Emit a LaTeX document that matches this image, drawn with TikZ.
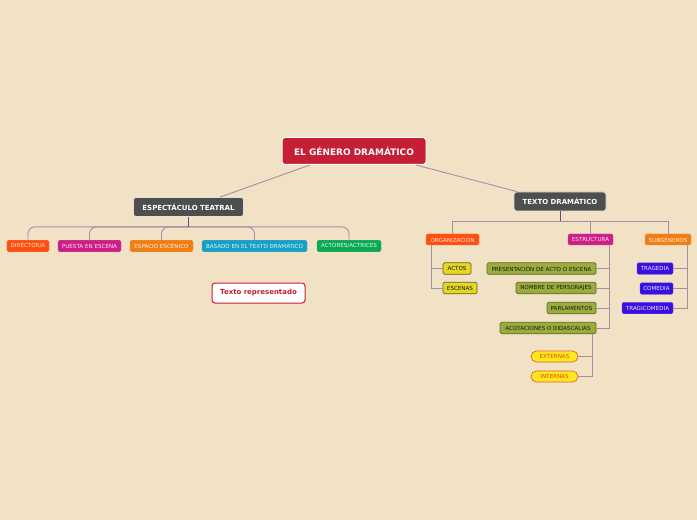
\documentclass[tikz,border=0pt]{standalone}
\usepackage{fontspec}
\setmainfont{DejaVu Sans}
\begin{document}
\definecolor{bg}{HTML}{F1E1C5}
\definecolor{rootred}{HTML}{C41F35}
\definecolor{darkbox}{HTML}{4E4E4E}
\definecolor{cred}{HTML}{FF4F10}
\definecolor{cmag}{HTML}{CC1F88}
\definecolor{corange}{HTML}{F07E12}
\definecolor{ccyan}{HTML}{189FC6}
\definecolor{cgreen}{HTML}{0CA955}
\definecolor{cyellow}{HTML}{E4D824}
\definecolor{cyellowb}{HTML}{6A6020}
\definecolor{colive}{HTML}{9AAD3B}
\definecolor{coliveb}{HTML}{5E6A24}
\definecolor{cpill}{HTML}{FFE81C}
\definecolor{cpillb}{HTML}{E0603A}
\definecolor{cpillt}{HTML}{E2461E}
\definecolor{cblue}{HTML}{3A10E0}
\definecolor{lnk}{HTML}{A58FA8}
\definecolor{lnkdark}{HTML}{6E4785}
\begin{tikzpicture}[x=1bp,y=-1bp,
  box/.style={rectangle,rounded corners=1.5bp,inner sep=0pt,align=center},
  rootbox/.style={box,fill=rootred,draw=white,line width=1bp,rounded corners=3bp,text=white,font=\bfseries\fontsize{9}{10}\selectfont,minimum width=144bp,minimum height=27bp},
  mainbox/.style={box,fill=darkbox,draw=black!12,line width=0.8bp,rounded corners=2.5bp,text=white,font=\bfseries\fontsize{7}{8}\selectfont,minimum height=19bp},
  lvtwo/.style={box,fill=#1,draw=#1!85!white,line width=0.4bp,text=white!88!#1,font=\fontsize{5.6}{6}\selectfont,minimum height=11.5bp},
  yelbox/.style={box,fill=cyellow,draw=cyellowb,line width=0.7bp,text=black!90,font=\fontsize{5.6}{6}\selectfont,minimum height=11.5bp},
  olbox/.style={box,fill=colive,draw=coliveb,line width=0.7bp,text=black!90,font=\fontsize{5.6}{6}\selectfont,minimum height=11.5bp},
  pillbox/.style={box,fill=cpill,draw=cpillb,line width=0.7bp,rounded corners=5.5bp,text=cpillt,font=\fontsize{5.6}{6}\selectfont,minimum height=11bp,minimum width=47bp},
  bluebox/.style={box,fill=cblue,draw=cblue!80!white,line width=0.4bp,text=white!90!cblue,font=\fontsize{5.6}{6}\selectfont,minimum height=11.5bp},
  link/.style={draw=lnk,line width=0.9bp},
  stub/.style={draw=lnkdark,line width=0.9bp}
]
\fill[bg] (0,0) rectangle (697,520);
\useasboundingbox (0,0) rectangle (697,520);

% root and main nodes
\node[rootbox] (root) at (354,151) {EL GÉNERO DRAMÁTICO};
\node[mainbox,minimum width=110bp] (esp) at (188.5,207) {ESPECTÁCULO TEATRAL};
\node[mainbox,minimum width=92bp] (tex) at (560,201.5) {TEXTO DRAMÁTICO};

% espectaculo children
\node[lvtwo=cred,minimum width=42bp] (dir) at (28,246) {DIRECTOR/A};
\node[lvtwo=cmag,minimum width=63bp] (pue) at (89.5,246) {PUESTA EN ESCENA};
\node[lvtwo=corange,minimum width=63bp] (espa) at (161.5,246) {ESPACIO ESCÉNICO};
\node[lvtwo=ccyan,minimum width=105bp] (bas) at (254.5,246) {BASADO EN EL TEXTO DRAMÁTICO};
\node[lvtwo=cgreen,minimum width=64bp] (act) at (349,246) {ACTORES/ACTRICES};

\node[box,fill=white,draw=rootred,line width=1bp,rounded corners=3bp,text=rootred,font=\bfseries\fontsize{7}{8}\selectfont,minimum width=93bp,minimum height=20bp] (trep) at (258.5,293) {Texto representado};

% texto children
\node[lvtwo=cred,minimum width=53bp,minimum height=11bp] (org) at (452.5,239.5) {ORGANIZACIÓN};
\node[lvtwo=cmag,minimum width=45bp,minimum height=11bp] (est) at (590.5,239.5) {ESTRUCTURA};
\node[lvtwo=corange,minimum width=46bp,minimum height=11bp] (sub) at (668,239.5) {SUBGÉNEROS};

% organizacion
\node[yelbox,minimum width=28bp] (actos) at (457,268.5) {ACTOS};
\node[yelbox,minimum width=34bp] (esc) at (460,288) {ESCENAS};

% estructura
\node[olbox,minimum width=109bp] (pres) at (541.5,268.5) {PRESENTACIÓN DE ACTO O ESCENA};
\node[olbox,minimum width=80bp] (nom) at (556,288) {NOMBRE DE PERSONAJES};
\node[olbox,minimum width=49bp] (par) at (571.5,308) {PARLAMENTOS};
\node[olbox,minimum width=96bp] (acot) at (548,328) {ACOTACIONES O DIDASCALIAS};
\node[pillbox] (ext) at (554.5,356.5) {EXTERNAS};
\node[pillbox] (int) at (554.5,376.5) {INTERNAS};

% subgeneros
\node[bluebox,minimum width=36bp] (trag) at (655,268.5) {TRAGEDIA};
\node[bluebox,minimum width=33bp] (com) at (656.5,288.5) {COMEDIA};
\node[bluebox,minimum width=51bp] (tcom) at (647.5,308) {TRAGICOMEDIA};

% connectors root
\draw[link] ([xshift=-44bp]root.south) -- ([xshift=31.5bp]esp.north);
\draw[link] ([xshift=62bp]root.south) -- ([xshift=-43bp]tex.north);

% espectaculo
\coordinate (espj) at ([yshift=-10bp]esp.south);
\foreach \c in {dir,pue,espa,bas,act}{
  \draw[link,rounded corners=7bp] (espj) -| (\c.north);
}
\draw[stub] (esp.south) -- (espj);

% texto
\coordinate (texj) at ([yshift=-10bp,xshift=0.5bp]tex.south);
\foreach \c in {org,est,sub}{
  \draw[link] (texj) -| (\c.north);
}
\draw[stub] ([xshift=0.5bp]tex.south) -- (texj);

% organizacion
\draw[link] ([xshift=-21.5bp]org.south) |- (actos.west);
\draw[link] ([xshift=-21.5bp]org.south) |- (esc.west);
% estructura
\foreach \c in {pres,nom,par,acot}{
  \draw[link] ([xshift=18.5bp]est.south) |- (\c.east);
}
% acotaciones
\draw[link] ([xshift=44bp]acot.south) |- (ext.east);
\draw[link] ([xshift=44bp]acot.south) |- (int.east);
% subgeneros
\foreach \c in {trag,com,tcom}{
  \draw[link] ([xshift=19bp]sub.south) |- (\c.east);
}
\end{tikzpicture}
\end{document}
